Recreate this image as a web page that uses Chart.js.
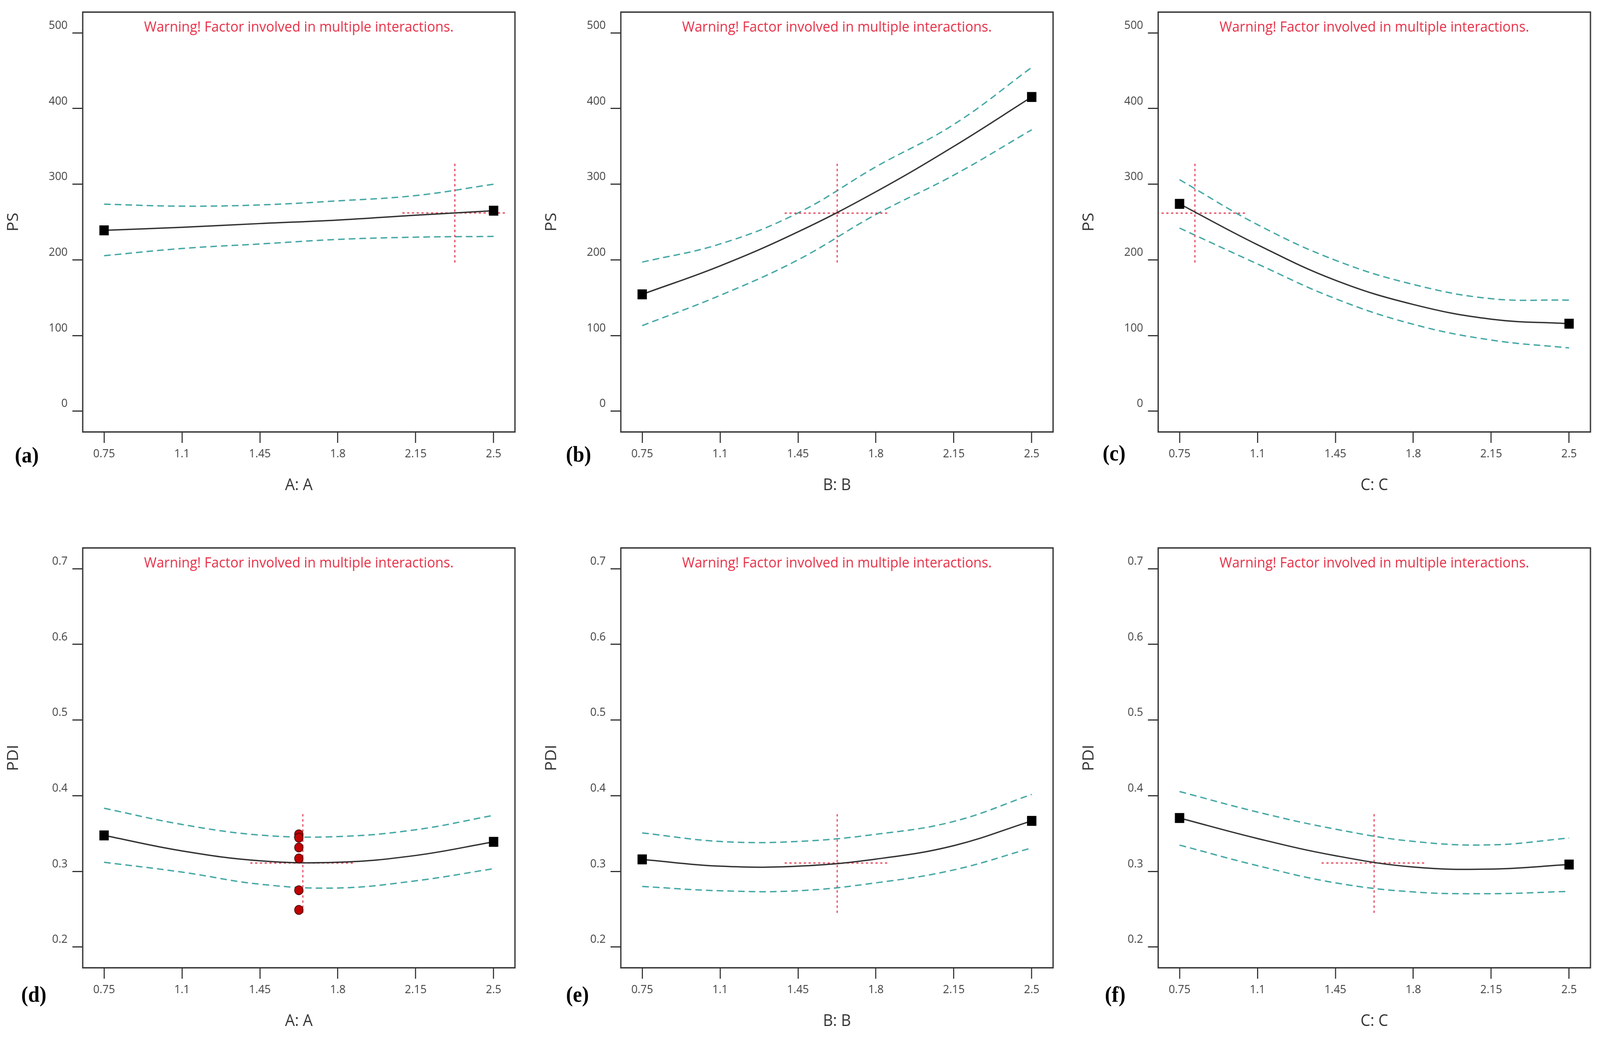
<!DOCTYPE html>
<html>
<head>
<meta charset="utf-8">
<script src="https://cdn.jsdelivr.net/npm/chart.js@4.4.1/dist/chart.umd.min.js"></script>
<style>
  html, body { margin: 0; padding: 0; background: #fff; overflow: hidden; }
  #stage { position: absolute; left: 0; top: 0; width: 4353px; height: 2668px; transform-origin: 0 0; background: #fff; }
  canvas { position: absolute; }
  .plabel { position: absolute; font-family: "Liberation Serif", serif; font-weight: bold; font-size: 56px; color: #000; transform: translate(-50%, -50%); white-space: nowrap; }
</style>
</head>
<body>
<div id="stage"></div>
<script>
// ---------------- DATA ----------------
const WARNING = 'Warning! Factor involved in multiple interactions.';
const xTicks = [0.75, 1.1, 1.45, 1.8, 2.15, 2.5];
const psTicks = [0, 100, 200, 300, 400, 500];
const pdiTicks = [0.2, 0.3, 0.4, 0.5, 0.6, 0.7];
const xSample = [0.75, 1.1, 1.45, 1.8, 2.15, 2.5];
const xEnds = [0.75, 2.5];

// (a) PS vs A
const psA_mean  = [239, 243, 248, 252.6, 259, 265];
const psA_upper = [273.6, 271, 272.6, 278, 285, 300];
const psA_lower = [205.5, 215, 221, 227, 230, 231];
const psA_ends  = [239, 265];
const psA_cross = [2.326, 262];
// (b) PS vs B
const psB_mean  = [154.4, 192, 237, 290, 350, 415.3];
const psB_upper = [197, 221, 262, 323, 379, 454.4];
const psB_lower = [113, 153, 200, 260, 312, 372];
const psB_ends  = [154.4, 415.3];
const psB_cross = [1.626, 261.7];
// (c) PS vs C
const psC_mean  = [274, 220, 173, 141, 121.6, 115.6];
const psC_upper = [306, 246.6, 199.5, 167.5, 148.7, 146.8];
const psC_lower = [242, 194.6, 148.7, 114.8, 94, 83.6];
const psC_ends  = [274, 115.6];
const psC_cross = [0.819, 261.7];
// (d) PDI vs A
const pdiA_mean  = [0.3475, 0.327, 0.314, 0.312, 0.321, 0.339];
const pdiA_upper = [0.3834, 0.362, 0.348, 0.346, 0.355, 0.374];
const pdiA_lower = [0.312, 0.299, 0.283, 0.278, 0.2875, 0.3035];
const pdiA_ends  = [0.3475, 0.339];
const pdiA_cross = [1.643, 0.311];
const pdiA_designX = 1.625;
const pdiA_design = [0.349, 0.3445, 0.3315, 0.317, 0.275, 0.249];
// (e) PDI vs B
const pdiB_mean  = [0.3158, 0.3068, 0.3068, 0.3162, 0.334, 0.3667];
const pdiB_upper = [0.3508, 0.3395, 0.3395, 0.349, 0.366, 0.4017];
const pdiB_lower = [0.28, 0.2743, 0.2743, 0.2848, 0.3019, 0.331];
const pdiB_ends  = [0.3158, 0.3667];
const pdiB_cross = [1.626, 0.311];
// (f) PDI vs C
const pdiC_mean  = [0.3705, 0.3434, 0.3207, 0.3057, 0.303, 0.309];
const pdiC_upper = [0.4055, 0.3784, 0.3558, 0.3396, 0.335, 0.344];
const pdiC_lower = [0.3347, 0.3075, 0.2848, 0.2728, 0.2705, 0.2735];
const pdiC_ends  = [0.3705, 0.309];
const pdiC_cross = [1.624, 0.311];

// crosshair extents
const crossHalfX = 0.236;
const psCrossY  = [196.5, 329.5];
const pdiCrossY = [0.245, 0.379];
// axis ranges
const xRange   = [0.654, 2.596];
const psRange  = [-27.5, 527.5];
const pdiRange = [0.1725, 0.7275];

// ---------------- LAYOUT / STYLE ----------------
const PAGE_W = 4353, PAGE_H = 2668;
const FRAME_W = 1176, FRAME_H = 1079, AXIS_W = 225, XAXIS_H = 190, TOP_PAD = 27;
const FONT = "'Open Sans', 'Noto Sans', sans-serif";
const C_MEAN = '#333333', C_CI = '#45a8a5', C_CROSS = '#e33b52', C_WARN = '#e62e45';

// map the 4353x2668 design onto the CSS viewport the browser really has
const stage = document.getElementById('stage');
(function fit() {
  const w = window.innerWidth || PAGE_W, h = window.innerHeight || PAGE_H;
  const sx = w / PAGE_W, sy = h / PAGE_H;
  stage.style.transform = 'scale(' + sx + ',' + sy + ')';
  document.body.style.width = w + 'px';
  document.body.style.height = h + 'px';
})();

const panels = [
  { left: 225,  top: 27,   yTicks: psTicks,  yRange: psRange,  yTitle: 'PS',  xTitle: 'A: A', mean: psA_mean,  upper: psA_upper,  lower: psA_lower,  ends: psA_ends,  cross: psA_cross,  crossY: psCrossY,  label: '(a)', lx: 73,   ly: 1165 },
  { left: 1689, top: 27,   yTicks: psTicks,  yRange: psRange,  yTitle: 'PS',  xTitle: 'B: B', mean: psB_mean,  upper: psB_upper,  lower: psB_lower,  ends: psB_ends,  cross: psB_cross,  crossY: psCrossY,  label: '(b)', lx: 1574, ly: 1163 },
  { left: 3151, top: 27,   yTicks: psTicks,  yRange: psRange,  yTitle: 'PS',  xTitle: 'C: C', mean: psC_mean,  upper: psC_upper,  lower: psC_lower,  ends: psC_ends,  cross: psC_cross,  crossY: psCrossY,  label: '(c)', lx: 3031, ly: 1160 },
  { left: 225,  top: 1399, yTicks: pdiTicks, yRange: pdiRange, yTitle: 'PDI', xTitle: 'A: A', mean: pdiA_mean, upper: pdiA_upper, lower: pdiA_lower, ends: pdiA_ends, cross: pdiA_cross, crossY: pdiCrossY, label: '(d)', lx: 92,   ly: 2546, design: pdiA_design, designX: pdiA_designX },
  { left: 1689, top: 1399, yTicks: pdiTicks, yRange: pdiRange, yTitle: 'PDI', xTitle: 'B: B', mean: pdiB_mean, upper: pdiB_upper, lower: pdiB_lower, ends: pdiB_ends, cross: pdiB_cross, crossY: pdiCrossY, label: '(e)', lx: 1571, ly: 2546 },
  { left: 3151, top: 1399, yTicks: pdiTicks, yRange: pdiRange, yTitle: 'PDI', xTitle: 'C: C', mean: pdiC_mean, upper: pdiC_upper, lower: pdiC_lower, ends: pdiC_ends, cross: pdiC_cross, crossY: pdiCrossY, label: '(f)', lx: 3034, ly: 2546 }
];

const framePlugin = {
  id: 'frameAndWarning',
  afterDraw(chart) {
    const { ctx, chartArea: a } = chart;
    ctx.save();
    ctx.strokeStyle = '#333';
    ctx.lineWidth = 3.5;
    ctx.strokeRect(a.left, a.top, a.right - a.left, a.bottom - a.top);
    ctx.fillStyle = C_WARN;
    ctx.font = "37px " + FONT;
    ctx.textAlign = 'center';
    ctx.textBaseline = 'alphabetic';
    ctx.fillText(WARNING, (a.left + a.right) / 2, a.top + 50);
    ctx.restore();
  }
};

function pts(xs, ys) { return ys.map((y, i) => ({ x: xs[i], y: y })); }

panels.forEach((p) => {
  const cLeft = p.left - AXIS_W;
  const cTop = p.top - TOP_PAD;
  const cW = Math.min(AXIS_W + FRAME_W + 50, PAGE_W - cLeft);
  const cH = TOP_PAD + FRAME_H + XAXIS_H;
  const rightPad = cW - AXIS_W - FRAME_W;

  const cv = document.createElement('canvas');
  cv.width = cW; cv.height = cH;
  cv.style.left = cLeft + 'px'; cv.style.top = cTop + 'px';
  cv.style.width = cW + 'px'; cv.style.height = cH + 'px';
  stage.appendChild(cv);

  const lab = document.createElement('div');
  lab.className = 'plabel';
  lab.textContent = p.label;
  lab.style.left = p.lx + 'px'; lab.style.top = p.ly + 'px';
  stage.appendChild(lab);

  const datasets = [];
  if (p.design) {
    datasets.push({ data: p.design.map(v => ({ x: p.designX, y: v })), showLine: false,
      pointStyle: 'circle', pointRadius: 11.5, pointBackgroundColor: '#c00000', pointBorderColor: '#4a0000', pointBorderWidth: 2 });
  }
  datasets.push({ data: pts(xEnds, p.ends), showLine: false, pointStyle: 'rect', pointRadius: 18,
    pointBackgroundColor: '#000', pointBorderColor: '#000', pointBorderWidth: 0 });
  datasets.push({ data: pts(xSample, p.mean), showLine: true, pointRadius: 0, borderColor: C_MEAN, borderWidth: 3.5, tension: 0.4 });
  datasets.push({ data: [{ x: p.cross[0], y: p.crossY[0] }, { x: p.cross[0], y: p.crossY[1] }], showLine: true, pointRadius: 0,
    borderColor: C_CROSS, borderWidth: 3, borderDash: [6, 7], tension: 0 });
  datasets.push({ data: [{ x: p.cross[0] - crossHalfX, y: p.cross[1] }, { x: p.cross[0] + crossHalfX, y: p.cross[1] }], showLine: true, pointRadius: 0,
    borderColor: C_CROSS, borderWidth: 3, borderDash: [6, 7], tension: 0 });
  datasets.push({ data: pts(xSample, p.upper), showLine: true, pointRadius: 0, borderColor: C_CI, borderWidth: 3.5, borderDash: [18, 11], tension: 0.4 });
  datasets.push({ data: pts(xSample, p.lower), showLine: true, pointRadius: 0, borderColor: C_CI, borderWidth: 3.5, borderDash: [18, 11], tension: 0.4 });

  new Chart(cv, {
    type: 'scatter',
    data: { datasets },
    plugins: [framePlugin],
    options: {
      responsive: false,
      animation: false,
      devicePixelRatio: 1,
      events: [],
      layout: { padding: { top: TOP_PAD, right: rightPad, bottom: 0, left: 0 } },
      plugins: { legend: { display: false }, tooltip: { enabled: false } },
      scales: {
        x: {
          type: 'linear', position: 'bottom', min: xRange[0], max: xRange[1],
          afterBuildTicks: (s) => { s.ticks = xTicks.map(v => ({ value: v })); },
          afterFit: (s) => { s.height = XAXIS_H; },
          border: { display: false },
          grid: { display: true, drawOnChartArea: false, drawTicks: true, tickLength: 28, color: '#333', lineWidth: 3 },
          ticks: { callback: (v) => String(v), color: '#404040', font: { family: FONT, size: 30 }, padding: 10, maxRotation: 0, autoSkip: false },
          title: { display: true, text: p.xTitle, color: '#333', font: { family: FONT, size: 42 }, padding: { top: 0, bottom: 28 } }
        },
        y: {
          type: 'linear', position: 'left', min: p.yRange[0], max: p.yRange[1],
          afterBuildTicks: (s) => { s.ticks = p.yTicks.map(v => ({ value: v })); },
          afterFit: (s) => { s.width = AXIS_W; },
          border: { display: false },
          grid: { display: true, drawOnChartArea: false, drawTicks: true, tickLength: 28, color: '#333', lineWidth: 3 },
          ticks: { callback: (v) => String(v), color: '#404040', font: { family: FONT, size: 30 }, padding: 13, labelOffset: -19, autoSkip: false },
          title: { display: true, text: p.yTitle, color: '#333', font: { family: FONT, size: 42 }, padding: { top: 12, bottom: 0 } }
        }
      }
    }
  });
});
</script>
</body>
</html>
